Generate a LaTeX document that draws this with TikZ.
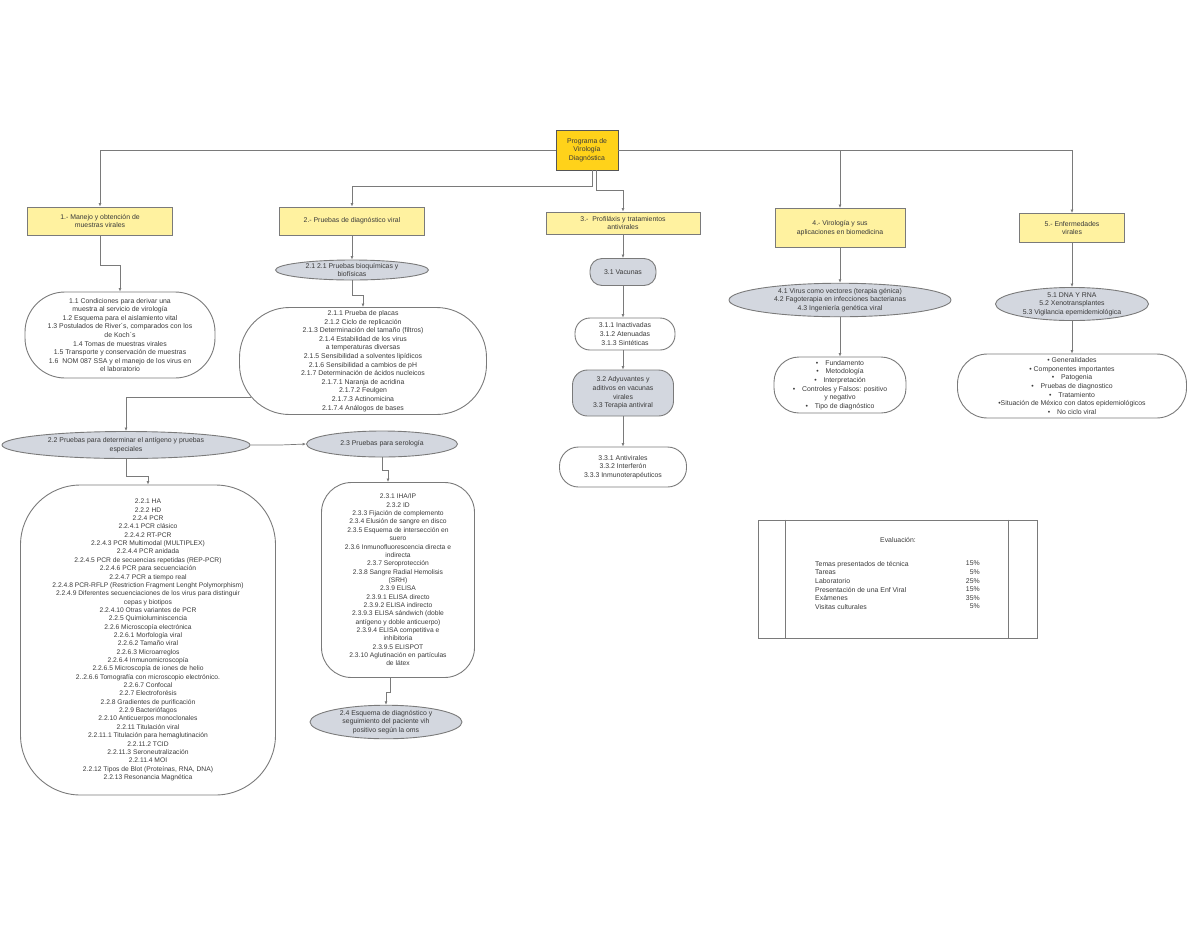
\documentclass[tikz,border=0pt]{standalone}
\usepackage{fontspec}
\setmainfont{Liberation Sans}
\usetikzlibrary{shapes.geometric,arrows.meta}
\definecolor{ln}{HTML}{7A7A7A}
\definecolor{tx}{HTML}{3A3A3A}
\definecolor{yl}{HTML}{FFF2A0}
\definecolor{gold}{HTML}{FFD21A}
\definecolor{gr}{HTML}{D3D7DF}
\begin{document}
\begin{tikzpicture}[x=1pt,y=-1pt,
 every node/.style={font=\fontsize{6.9}{8.6}\selectfont,text=tx,align=center,inner sep=1pt},
 conn/.style={draw=ln,line width=0.7pt,-{Latex[length=3.5pt,width=3pt]}},
 sec/.style={draw=ln,fill=yl,line width=0.9pt,minimum width=#1},
 grel/.style={ellipse,draw=ln,fill=gr,line width=0.9pt},
 rbox/.style={draw=ln,line width=0.9pt,rounded corners=#1}]
\useasboundingbox (0,0) rectangle (1200,927);
\node[draw=ln!70!black,fill=gold,line width=0.9pt,minimum width=62,minimum height=40] (root) at (587,150) {Programa de\\Virología\\Diagnóstica};
\node[sec=145,minimum height=28] (b1) at (100,221) {1.- Manejo y obtención de\\muestras virales};
\node[sec=145,minimum height=28] (b2) at (352,221) {2.- Pruebas de diagnóstico viral};
\node[sec=154,minimum height=22] (b3) at (623,223) {3.-~ Profiláxis y tratamientos\\antivirales};
\node[sec=130,minimum height=39] (b4) at (840,228) {4.- Virología y sus\\aplicaciones en biomedicina};
\node[sec=105,minimum height=29] (b5) at (1072,228) {5.- Enfermedades\\virales};
% branch 1
\node[rbox=40,minimum width=190,minimum height=86] (n1) at (120,335) {1.1 Condiciones para derivar una\\muestra al servicio de virología\\1.2 Esquema para el aislamiento vital\\1.3 Postulados de River´s, comparados con los\\de Koch´s\\1.4 Tomas de muestras virales\\1.5 Transporte y conservación de muestras\\1.6~ NOM 087 SSA y el manejo de los virus en\\el laboratorio};
% branch 2
\node[grel,minimum width=153,minimum height=20,inner sep=0pt] (n21) at (352,270) {2.1 2.1 Pruebas bioquímicas y\\biofísicas};
\node[rbox=50,minimum width=247,minimum height=107] (n21x) at (363,361) {2.1.1 Prueba de placas\\2.1.2 Ciclo de replicación\\2.1.3 Determinación del tamaño (filtros)\\2.1.4 Estabilidad de los virus\\a temperaturas diversas\\2.1.5 Sensibilidad a solventes lipídicos\\2.1.6 Sensibilidad a cambios de pH\\2.1.7 Determinación de ácidos nucleicos\\2.1.7.1 Naranja de acridina\\2.1.7.2 Feulgen\\2.1.7.3 Actinomicina\\2.1.7.4 Análogos de bases};
\node[grel,minimum width=248,minimum height=27,inner sep=0pt] (n22) at (126,445) {2.2 Pruebas para determinar el antígeno y pruebas\\especiales};
\node[grel,minimum width=151,minimum height=26,inner sep=0pt] (n23) at (382,444) {2.3 Pruebas para serología};
\node[rbox=60,minimum width=255,minimum height=310,font=\fontsize{6.7}{8.35}\selectfont] (n22x) at (148,640) {2.2.1 HA\\2.2.2 HD\\2.2.4 PCR\\2.2.4.1 PCR clásico\\2.2.4.2 RT-PCR\\2.2.4.3 PCR Multimodal (MULTIPLEX)\\2.2.4.4 PCR anidada\\2.2.4.5 PCR de secuencias repetidas (REP-PCR)\\2.2.4.6 PCR para secuenciación\\2.2.4.7 PCR a tiempo real\\2.2.4.8 PCR-RFLP (Restriction Fragment Lenght Polymorphism)\\2.2.4.9 Diferentes secuenciaciones de los virus para distinguir\\cepas y biotipos\\2.2.4.10 Otras variantes de PCR\\2.2.5 Quimioluminiscencia\\2.2.6 Microscopía electrónica\\2.2.6.1 Morfología viral\\2.2.6.2 Tamaño viral\\2.2.6.3 Microarreglos\\2.2.6.4 Inmunomicroscopía\\2.2.6.5 Microscopía de iones de helio\\2..2.6.6 Tomografía con microscopio electrónico.\\2.2.6.7 Confocal\\2.2.7 Electroforésis\\2.2.8 Gradientes de purificación\\2.2.9 Bacteriófagos\\2.2.10 Anticuerpos monoclonales\\2.2.11 Titulación viral\\2.2.11.1 Titulación para hemaglutinación\\2.2.11.2 TCID\\2.2.11.3 Seroneutralización\\2.2.11.4 MOI\\2.2.12 Tipos de Blot (Proteínas, RNA, DNA)\\2.2.13 Resonancia Magnética};
\node[rbox=30,minimum width=153,minimum height=195,font=\fontsize{6.7}{8.35}\selectfont] (n23x) at (398,580) {2.3.1 IHA/IP\\2.3.2 ID\\2.3.3 Fijación de complemento\\2.3.4 Elusión de sangre en disco\\2.3.5 Esquema de intersección en\\suero\\2.3.6 Inmunofluorescencia directa e\\indirecta\\2.3.7 Seroprotección\\2.3.8 Sangre Radial Hemolisis\\(SRH)\\2.3.9 ELISA\\2.3.9.1 ELISA directo\\2.3.9.2 ELISA indirecto\\2.3.9.3 ELISA sándwich (doble\\antígeno y doble anticuerpo)\\2.3.9.4 ELISA competitiva e\\inhibitoria\\2.3.9.5 ELISPOT\\2.3.10 Aglutinación en partículas\\de látex};
\node[grel,minimum width=152,minimum height=31,inner sep=0pt] (n24) at (386,722) {2.4 Esquema de diagnóstico y\\seguimiento del paciente vih\\positivo según la oms};
% branch 3
\node[draw=ln,fill=gr,line width=0.9pt,rounded corners=12,minimum width=66,minimum height=27] (n31) at (623,272) {3.1 Vacunas};
\node[rbox=15,minimum width=100,minimum height=32] (n31x) at (625,334) {3.1.1 Inactivadas\\3.1.2 Atenuadas\\3.1.3 Sintéticas};
\node[draw=ln,fill=gr,line width=0.9pt,rounded corners=15,minimum width=101,minimum height=46] (n32) at (623,393) {3.2 Adyuvantes y\\aditivos en vacunas\\virales\\3.3 Terapia antiviral};
\node[rbox=19,minimum width=127,minimum height=40] (n33x) at (623,467) {3.3.1 Antivirales\\3.3.2 Interferón\\3.3.3 Inmunoterapéuticos};
% branch 4
\node[grel,minimum width=222,minimum height=33,inner sep=0pt] (n4) at (840,300) {4.1 Virus como vectores (terapia génica)\\4.2 Fagoterapia en infecciones bacterianas\\4.3 Ingeniería genética viral};
\node[rbox=25,minimum width=132,minimum height=56] (n4x) at (840,385) {•\quad Fundamento\\•\quad Metodología\\•\quad Interpretación\\•\quad Controles y Falsos: positivo\\y negativo\\•\quad Tipo de diagnóstico};
% branch 5
\node[grel,minimum width=153,minimum height=32,inner sep=0pt] (n5) at (1072,304) {5.1 DNA Y RNA\\5.2 Xenotransplantes\\5.3 Vigilancia epemidemiológica};
\node[rbox=30,minimum width=229,minimum height=64] (n5x) at (1072,386) {• Generalidades\\• Componentes importantes\\•\quad Patogenia\\•\quad Pruebas de diagnostico\\•\quad Tratamiento\\•Situación de México con datos epidemiológicos\\•\quad No ciclo viral};
% evaluation
\node[draw=ln,line width=0.9pt,minimum width=279,minimum height=118] (ev) at (897.5,579) {};
\draw[ln,line width=0.9pt] ([xshift=28]ev.north west) -- ([xshift=28]ev.south west);
\draw[ln,line width=0.9pt] ([xshift=-29]ev.north east) -- ([xshift=-29]ev.south east);
\node (evt) at (898,540) {Evaluación:};
\node[anchor=north west,align=left,inner sep=0pt] (evl) at (815,561) {Temas presentados de técnica\\Tareas\\Laboratorio\\Presentación de una Enf Viral\\Exámenes\\Visitas culturales};
\node[anchor=north east,align=right,inner sep=0pt] (evr) at (980,561) {15\%\\5\%\\25\%\\15\%\\35\%\\5\%};
% connectors
\draw[conn] (root.west) -| (b1.north);
\draw[conn] (root.east) -| (b5.north);
\draw[conn] (root.east -| b4.north) -- (b4.north);
\draw[conn] ([xshift=5]root.south) -- ++(0,16) -| (b2.north);
\draw[conn] ([xshift=9]root.south) -- ++(0,20) -| (b3.north);
\draw[conn] (b1.south) -- ++(0,30) -| (n1.north);
\draw[conn] (b2.south) -- (n21.north);
\draw[conn] (n21.south) -- ++(0,15) -| (n21x.north);
\draw[conn] ([xshift=12,yshift=-36]n21x.west) -| (n22.north);
\draw[conn] (n22.east) -- ++(30,0) -- (n23.west);
\draw[conn] (n22.south) -- ++(0,17) -| (n22x.north);
\draw[conn] (n23.south) -- ++(0,13) -| ([xshift=-10]n23x.north);
\draw[conn] ([xshift=-8]n23x.south) -- ++(0,14) -| (n24.north);
\draw[conn] (b3.south) -- (n31.north);
\draw[conn] (n31.south) -- (n31.south |- n31x.north);
\draw[conn] (n31x.south -| n32.north) -- (n32.north);
\draw[conn] (n32.south) -- (n33x.north);
\draw[conn] (b4.south) -- (n4.north);
\draw[conn] (n4.south) -- (n4x.north);
\draw[conn] (b5.south) -- (n5.north);
\draw[conn] (n5.south) -- (n5x.north);
\end{tikzpicture}
\end{document}
